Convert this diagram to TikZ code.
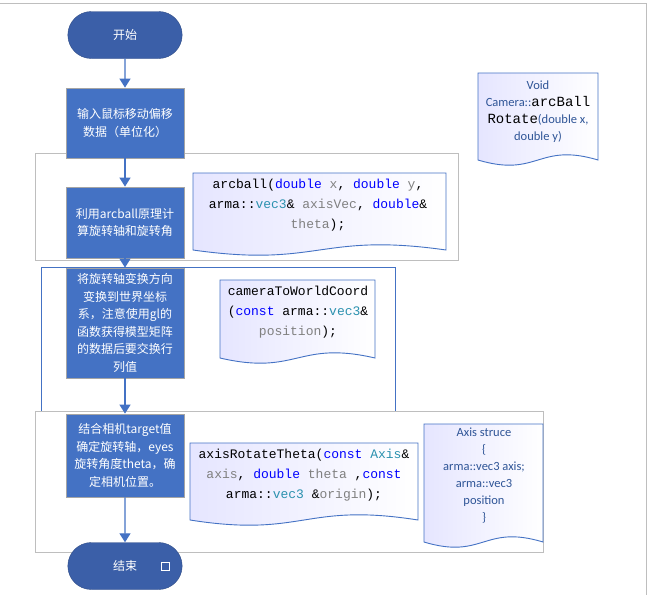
\documentclass[tikz,border=0pt]{standalone}
\usepackage{fontspec}
\usetikzlibrary{shapes.misc,arrows.meta}
\setmainfont{Carlito}
\setmonofont{Liberation Mono}
\newfontfamily\cjk{Noto Sans CJK SC}
\definecolor{boxblue}{RGB}{68,114,196}
\definecolor{pillblue}{RGB}{59,95,168}
\definecolor{edgeblue}{RGB}{68,114,196}
\definecolor{kw}{RGB}{0,0,255}
\definecolor{ty}{RGB}{43,145,175}
\definecolor{pm}{RGB}{128,128,128}
\definecolor{frame}{RGB}{190,190,190}
\definecolor{dtext}{RGB}{47,85,151}
\newcommand{\docpath}[4]{% x1 y1 x2 y2 (y2 = bottom of wave end)
  \path[draw=edgeblue,line width=0.9pt,left color=blue!10,right color=white]
   (#1,-#2) -- (#3,-#2) -- (#3,-#4)
   .. controls ({#1+0.5*(#3-#1)},{-#4+18}) and ({#1+0.5*(#3-#1)},{-#4-18}) .. (#1,-#4) -- cycle;}
\begin{document}
\begin{tikzpicture}[x=1pt,y=1pt,
  pill/.style={rounded rectangle,fill=pillblue,draw=pillblue!80!black,minimum width=121pt,minimum height=47pt,text=white,font=\cjk\fontsize{12}{14}\selectfont},
  stepbox/.style={rectangle,fill=boxblue,draw=frame!60!gray,line width=0.8pt,text width=114pt,align=center,text=white,font=\cjk\fontsize{12}{17.5}\selectfont,inner sep=2pt},
  arr/.style={draw=boxblue,line width=1.3pt,-{Triangle[length=9pt,width=11pt]}},
  code/.style={align=center,font=\ttfamily\fontsize{13}{20}\selectfont},
  dtxt/.style={align=center,text=dtext,font=\fontsize{12.5}{17}\selectfont}]
\useasboundingbox (0,0) rectangle (665,-595);
\fill[white] (0,0) rectangle (665,-595);
% page frame
\draw[frame,line width=1pt] (0,-3) -- (646,-3) -- (646,-595);
% group frames
\draw[frame,line width=0.8pt] (35,-153) rectangle (458,-260);
\draw[draw=edgeblue,line width=1pt] (41,-267) rectangle (395,-411);
\draw[frame,line width=0.8pt] (35,-411) rectangle (543,-552);
% documents
\docpath{478}{73}{598}{160}
\node[dtxt] (d0) at (538,-112) {Void\\Camera::{\ttfamily\color{black}\fontsize{14}{20}\selectfont arcBall}\\{\ttfamily\color{black}\fontsize{14}{20}\selectfont Rotate}(double x,\\double y)};
\docpath{193}{173}{446}{250}
\node[code] (d1) at (318,-205) {arcball({\color{kw}double} {\color{pm}x}, {\color{kw}double} {\color{pm}y},\\arma::{\color{ty}vec3}\& {\color{pm}axisVec}, {\color{kw}double}\&\\{\color{pm}theta});};
\docpath{220}{280}{375}{358}
\node[code] (d2) at (298,-312) {cameraToWorldCoord\\({\color{kw}const} arma::{\color{ty}vec3}\&\\{\color{pm}position});};
\docpath{190}{443}{418}{520}
\node[code] (d3) at (304,-475) {axisRotateTheta({\color{kw}const} {\color{ty}Axis}\&\\{\color{pm}axis}, {\color{kw}double} {\color{pm}theta} ,{\color{kw}const}\\arma::{\color{ty}vec3} \&{\color{pm}origin});};
\docpath{424}{424}{543}{542}
\node[dtxt] (d4) at (484,-476) {Axis struce\\\{\\arma::vec3 axis;\\arma::vec3\\position\\\}};
% flow
\node[pill] (start) at (125,-35) {开始};
\node[stepbox,minimum height=70pt] (b1) at (125,-123) {输入鼠标移动偏移\\数据（单位化）};
\node[stepbox,minimum height=71pt] (b2) at (125,-222.5) {利用arcball原理计\\算旋转轴和旋转角};
\node[stepbox,minimum height=110pt] (b3) at (125,-323) {将旋转轴变换方向\\变换到世界坐标\\系，注意使用gl的\\函数获得模型矩阵\\的数据后要交换行\\列值};
\node[stepbox,minimum height=83pt] (b4) at (125,-455.5) {结合相机target值\\确定旋转轴，eyes\\旋转角度theta，确\\定相机位置。};
\node[pill] (end) at (125,-566) {结束\hspace{30pt}};
\node[draw=white,line width=0.6pt,minimum size=8pt,inner sep=0pt] (sq) at (165,-566) {};
\draw[arr] (start) -- (b1);
\draw[arr] (b1) -- (b2);
\draw[arr] (b2) -- (b3);
\draw[arr] (b3) -- (b4);
\draw[arr] (b4) -- (end);
\end{tikzpicture}
\end{document}
